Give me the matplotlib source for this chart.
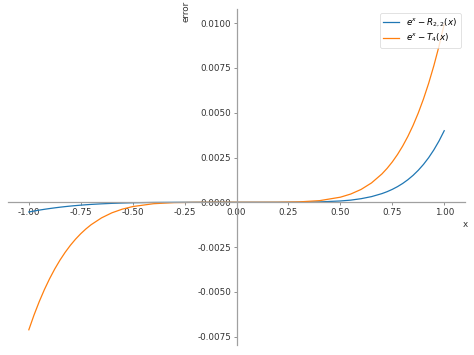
import numpy as np
import matplotlib
matplotlib.use("Agg")
import matplotlib.pyplot as plt

''' Sample points read from the chart '''
x = [-1.0, -0.975, -0.95, -0.925, -0.9, -0.875, -0.85, -0.825, -0.8, -0.775,
     -0.75, -0.725, -0.7, -0.65, -0.6, -0.55, -0.5,
     -0.4, -0.3, -0.2, -0.1, 0.0, 0.1, 0.2, 0.3, 0.4,
     0.5, 0.55, 0.6, 0.65, 0.7, 0.725, 0.75, 0.775, 0.8, 0.825,
     0.85, 0.875, 0.9, 0.925, 0.95, 0.975, 1.0]

err_pade = [-0.000542, -0.000488, -0.000438, -0.000392, -0.000350, -0.000311,
            -0.000275, -0.000242, -0.000212, -0.000185,
            -0.000161, -0.000139, -0.000119, -0.0000862, -0.0000606,
            -0.0000411, -0.0000267,
            -0.0000097, -0.0000025, -0.0000003, 0.0, 0.0, 0.0, 0.0000005,
            0.0000046, 0.0000214,
            0.0000727, 0.000120, 0.000201, 0.000316, 0.000484, 0.000592,
            0.000721, 0.000873, 0.001051, 0.001260,
            0.001503, 0.001786, 0.002113, 0.002491, 0.002926, 0.003425, 0.003996]

err_taylor = [-0.007121, -0.006297, -0.005551, -0.004876, -0.004268, -0.003721,
              -0.003231, -0.002794, -0.002404, -0.002059,
              -0.001755, -0.001487, -0.001252, -0.000871, -0.000588,
              -0.000384, -0.000240,
              -0.0000800, -0.0000193, -0.0000026, -0.0000001, 0.0, 0.0000001,
              0.0000028, 0.0000213, 0.0000914,
              0.000284, 0.000461, 0.000719, 0.001082, 0.001582, 0.001894,
              0.002254, 0.002668, 0.003141, 0.003680,
              0.004292, 0.004985, 0.005766, 0.006643, 0.007626, 0.008724, 0.009948]

labels = [r"$e^x - R_{2,2}(x)$", r"$e^x - T_4(x)$"]

fs = 6.3
fig = plt.figure(figsize=(4.74, 3.55), dpi=100)
ax = fig.add_axes([0.017, 0.028, 0.964, 0.947])

ax.plot(x, err_pade, color="#1f77b4", lw=0.9, label=labels[0])
ax.plot(x, err_taylor, color="#ff7f0e", lw=0.9, label=labels[1])

''' Axes through the origin '''
ax.spines["left"].set_position("zero")
ax.spines["bottom"].set_position("zero")
ax.spines["right"].set_visible(False)
ax.spines["top"].set_visible(False)
for s in ("left", "bottom"):
    ax.spines[s].set_linewidth(0.9)
    ax.spines[s].set_color("#a0a0a0")
ax.tick_params(labelsize=fs, width=0.5, length=2, pad=2, color="#666666",
               labelcolor="#333333")
ax.set_xticks([-1.0, -0.75, -0.5, -0.25, 0.0, 0.25, 0.5, 0.75, 1.0])
ax.set_yticks([-0.0075, -0.005, -0.0025, 0.0, 0.0025, 0.005, 0.0075, 0.01])
ax.yaxis.set_major_formatter(matplotlib.ticker.FormatStrFormatter("%.4f"))
ax.xaxis.set_major_formatter(matplotlib.ticker.FormatStrFormatter("%.2f"))

''' Labels at the ends of the axes '''
ax.set_xlabel("x", fontsize=fs, color="#333333")
ax.xaxis.set_label_coords(1.0, 0.372)
ax.set_ylabel("error", fontsize=fs, color="#333333")
ax.yaxis.set_label_coords(0.400, 0.994)

leg = ax.legend(loc="upper right", fontsize=fs, handlelength=1.8,
                borderpad=0.4, labelspacing=0.3, handletextpad=0.8,
                framealpha=0.8)
leg.get_frame().set_linewidth(0.5)

fig.savefig("out.png", dpi=100)
